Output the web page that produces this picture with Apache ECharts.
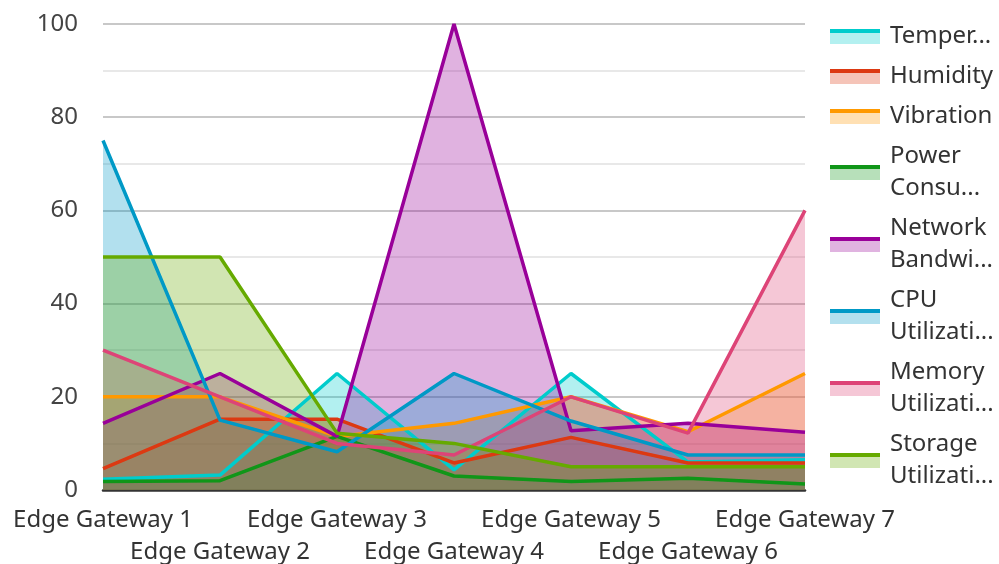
<!DOCTYPE html>
<html>
<head>
<meta charset="utf-8">
<script src="https://cdn.jsdelivr.net/npm/echarts@6/dist/echarts.min.js"></script>
<style>
  html, body { margin: 0; padding: 0; background: #fff; }
  #chart { width: 999px; height: 564px; }
</style>
</head>
<body>
<div id="chart"></div>
<script>
// Gateways along the x axis
const gateways = ['Edge Gateway 1', 'Edge Gateway 2', 'Edge Gateway 3', 'Edge Gateway 4',
                  'Edge Gateway 5', 'Edge Gateway 6', 'Edge Gateway 7'];

// Metric readings per gateway
const temperature = [2.3, 3.2, 25, 4.3, 25, 6, 6.5];
const humidity    = [4.6, 15.2, 15.2, 5.8, 11.3, 5.8, 5.8];
const vibration   = [20, 20, 11.5, 14.3, 20, 12.5, 25];
const power       = [1.8, 2, 11.5, 3, 1.8, 2.5, 1.3];
const network     = [14.3, 25, 11.5, 100, 12.7, 14.3, 12.4];
const cpu         = [75, 15, 8.2, 25, 14.8, 7.5, 7.5];
const memory      = [30, 20, 10, 7.5, 20, 12.2, 60];
const storage     = [50, 50, 12.2, 10, 5, 5, 5];

const seriesNames = ['Temperature', 'Humidity', 'Vibration', 'Power Consumption',
                     'Network Bandwidth', 'CPU Utilization', 'Memory Utilization', 'Storage Utilization'];
const seriesValues = [temperature, humidity, vibration, power, network, cpu, memory, storage];
const colors = ['#00cccc', '#dc3912', '#ff9900', '#109618', '#990099', '#0099c6', '#dd4477', '#66aa00'];

// y-axis ticks
const yMin = 0, yMax = 100, yStep = 20;

const FONT = '"Noto Sans", "DejaVu Sans", sans-serif';
const FONT_SIZE = 24;
const LINE_H = 32;

const chart = echarts.init(document.getElementById('chart'), null, { renderer: 'canvas' });

// legend swatch: light fill block under a thin coloured bar
const fillIcon = 'path://M0 4L50 4L50 15L0 15ZM0 0L0 0';
const barIcon = 'path://M0 0L50 0L50 4L0 4ZM0 15L0 15';

// one word per line; each line truncated by the text width
const wrapName = name => name.split(' ').join('\n');

// fill colour of an area at 30% over white
const lightColors = colors.map(c => {
  const r = parseInt(c.slice(1, 3), 16), g = parseInt(c.slice(3, 5), 16), b = parseInt(c.slice(5, 7), 16);
  const mix = v => Math.round(255 - 0.3 * (255 - v));
  return 'rgb(' + mix(r) + ',' + mix(g) + ',' + mix(b) + ')';
});

function makeLegend(icon, textColor, z, swatchColors) {
  return {
    orient: 'vertical',
    left: 830,
    top: 20.5,
    padding: 0,
    itemGap: 8,
    itemWidth: 50,
    itemHeight: 15,
    icon: icon,
    z: z,
    formatter: wrapName,
    itemStyle: { borderWidth: 0 },
    textStyle: {
      fontFamily: FONT,
      fontSize: FONT_SIZE,
      color: textColor,
      lineHeight: LINE_H,
      width: 112,
      overflow: 'truncate',
      ellipsis: '...'
    },
    data: seriesNames.map((name, i) => {
      const twoLines = name.indexOf(' ') >= 0;
      return {
        name: name,
        itemStyle: { color: swatchColors[i], borderWidth: 0 },
        textStyle: { padding: twoLines ? [12, 0, -12, 5] : [-4, 0, 4, 5] }
      };
    })
  };
}

// legend A draws the light fills with the names, legend B the coloured bars on top
const fillLegend = makeLegend(fillIcon, '#333', 4, lightColors);
const barLegend = makeLegend(barIcon, 'rgba(0,0,0,0)', 5, colors);

const series = seriesNames.map((name, i) => ({
  name: name,
  type: 'line',
  data: seriesValues[i],
  showSymbol: false,
  symbol: 'none',
  lineStyle: { width: 3.5, color: colors[i] },
  itemStyle: { color: colors[i] },
  areaStyle: { color: colors[i], opacity: 0.3 },
  emphasis: { disabled: true }
}));

chart.setOption({
  animation: false,
  color: colors,
  grid: { left: 103, right: 194, top: 24, bottom: 74, containLabel: false, outerBoundsMode: 'none' },
  legend: [fillLegend, barLegend],
  xAxis: {
    type: 'category',
    data: gateways,
    boundaryGap: false,
    axisLine: { show: true, lineStyle: { color: '#333', width: 2.5 } },
    axisTick: { show: false },
    splitLine: { show: false },
    axisLabel: {
      interval: 0,
      margin: 14.5,
      fontFamily: FONT,
      fontSize: FONT_SIZE,
      color: '#333',
      lineHeight: LINE_H,
      formatter: (v, idx) => (idx % 2 ? '\n' + v : v)
    }
  },
  yAxis: {
    type: 'value',
    min: yMin,
    max: yMax,
    interval: yStep,
    axisLine: { show: false },
    axisTick: { show: false },
    axisLabel: { margin: 25, fontFamily: FONT, fontSize: FONT_SIZE, color: '#444' },
    splitLine: { show: true, lineStyle: { color: '#c8c8c8', width: 2 } },
    minorTick: { show: false, splitNumber: 2 },
    minorSplitLine: { show: true, lineStyle: { color: '#e8e8e8', width: 2 } }
  },
  series: series
});
</script>
</body>
</html>
